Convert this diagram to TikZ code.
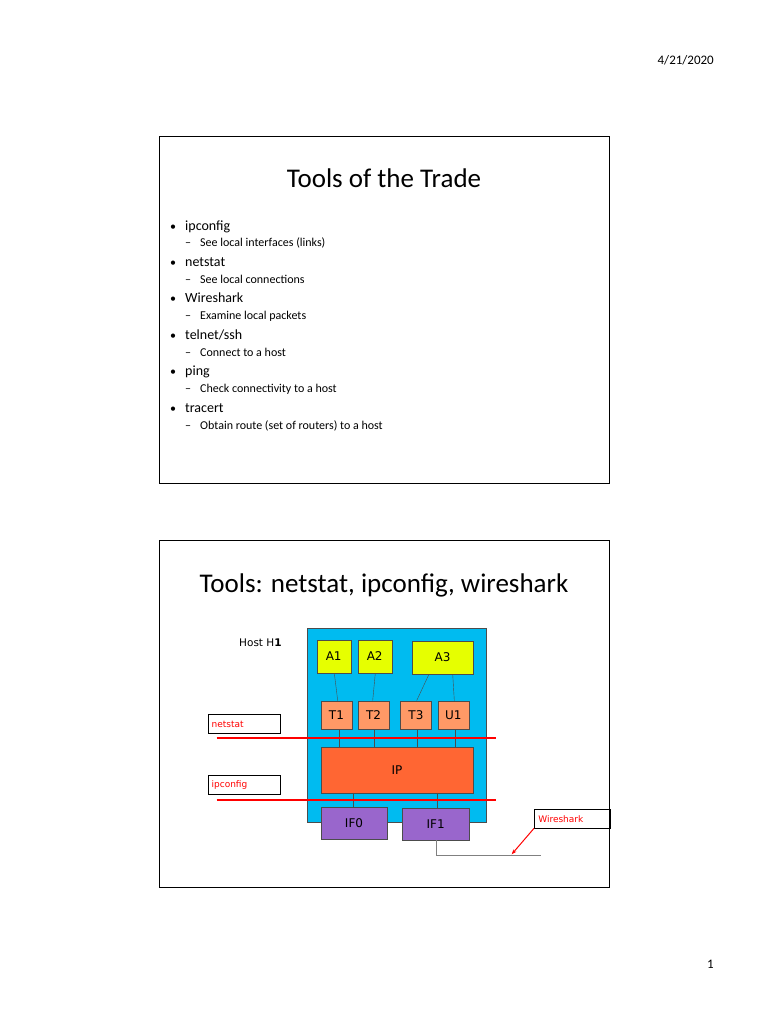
\documentclass[tikz,border=0pt]{standalone}
\usepackage{fontspec}
\setmainfont{Carlito}
\newfontfamily\dv{DejaVu Sans}
\usetikzlibrary{arrows.meta}
\definecolor{hostblue}{RGB}{0,187,240}
\definecolor{ayel}{RGB}{230,255,0}
\definecolor{tsal}{RGB}{255,153,102}
\definecolor{ipor}{RGB}{255,102,51}
\definecolor{ifpur}{RGB}{153,102,204}
\definecolor{redl}{RGB}{255,0,0}
\begin{document}
\begin{tikzpicture}[x=1pt,y=-1pt,
  frame/.style={draw=black,line width=0.6pt},
  blk/.style={draw=black!70,line width=0.4pt,inner sep=0pt,font=\dv\fontsize{12}{13}\selectfont},
  lab/.style={draw=black,line width=0.6pt,inner sep=0pt,text=redl,anchor=north west,font=\dv\fontsize{9}{10}\selectfont,align=left},
  wire/.style={draw=black!70,line width=0.4pt},
  redline/.style={draw=redl,line width=1.5pt},
  bul/.style={anchor=base west,font=\fontsize{14}{16}\selectfont,inner sep=0pt},
  sub/.style={anchor=base west,font=\fontsize{12}{14}\selectfont,inner sep=0pt}]
\useasboundingbox[fill=white] (0,0) rectangle (768,1024);
\node[anchor=base east,font=\fontsize{13}{15}\selectfont,inner sep=0pt] (date) at (714,65) {4/21/2020};
\node[anchor=base east,font=\fontsize{13}{15}\selectfont,inner sep=0pt] (pg) at (714,968) {1};
% slide 1
\draw[frame] (159,136) rectangle (609,483);
\node[font=\fontsize{27}{30}\selectfont,anchor=base] (t1) at (384,188) {Tools of the Trade};
\foreach \i/\a/\b [count=\k from 0] in {ipconfig/See local interfaces (links),netstat/See local connections,Wireshark/Examine local packets,telnet{/}ssh/Connect to a host,ping/Check connectivity to a host,tracert/Obtain route (set of routers) to a host}{
  \node[bul,font=\fontsize{12}{14}\selectfont] (bd\k) at (170,{230+36.4*\k}) {•};
  \node[bul] (bt\k) at (185,{230+36.4*\k}) {\i};
  \node[sub] (sd\k) at (185,{247+36.4*\k}) {–};
  \node[sub] (st\k) at (200,{247+36.4*\k}) {\a};
}
% slide 2
\draw[frame] (159,540) rectangle (609,887);
\node[font=\fontsize{27}{30}\selectfont,anchor=base] (t2) at (384,592) {Tools: netstat, ipconfig, wireshark};
\node[anchor=base west,font=\dv\fontsize{10.5}{12}\selectfont,inner sep=0pt] (host) at (239,646) {Host H\textbf{1}};
\node[draw=black!70,fill=hostblue,minimum width=179pt,minimum height=194pt,inner sep=0pt] (hb) at (396.2,725) {};
\node[blk,fill=ayel,minimum width=34pt,minimum height=33pt] (A1) at (333.7,656.5) {A1};
\node[blk,fill=ayel,minimum width=34pt,minimum height=33pt] (A2) at (374.7,656.5) {A2};
\node[blk,fill=ayel,minimum width=61pt,minimum height=33pt] (A3) at (442.5,657.5) {A3};
\node[blk,fill=tsal,minimum width=31pt,minimum height=28.5pt] (T1) at (336.4,715) {T1};
\node[blk,fill=tsal,minimum width=31pt,minimum height=28.5pt] (T2) at (373.5,715) {T2};
\node[blk,fill=tsal,minimum width=31pt,minimum height=28.5pt] (T3) at (415.9,715) {T3};
\node[blk,fill=tsal,minimum width=31pt,minimum height=28.5pt] (U1) at (453.4,715) {U1};
\node[blk,fill=ipor,minimum width=152.6pt,minimum height=45.4pt] (IP) at (397,770) {IP};
\node[blk,fill=ifpur,minimum width=66.6pt,minimum height=31.7pt] (IF0) at (354,823.2) {IF0};
\node[blk,fill=ifpur,minimum width=67.3pt,minimum height=31.7pt] (IF1) at (435.7,824.2) {IF1};
\draw[wire] (A1.south -| 334.3,0) -- (T1.north -| 337.7,0);
\draw[wire] (A2.south -| 375.3,0) -- (T2.north -| 372.7,0);
\draw[wire] (A3.south -| 429,0) -- (T3.north -| 416.7,0);
\draw[wire] (A3.south -| 452.7,0) -- (U1.north -| 454.3,0);
\draw[wire] (T1.south -| 339,0) -- (IP.north -| 339,0);
\draw[wire] (T2.south -| 373.7,0) -- (IP.north -| 373.7,0);
\draw[wire] (T3.south -| 416.7,0) -- (IP.north -| 416.7,0);
\draw[wire] (U1.south -| 455,0) -- (IP.north -| 455,0);
\draw[wire] (IP.south -| 353.3,0) -- (IF0.north -| 353.3,0);
\draw[wire] (IP.south -| 437.3,0) -- (IF1.north -| 437.3,0);
\node[lab,minimum width=69.4pt,minimum height=19.3pt,text width=66pt,inner xsep=3pt] (ns) at (208.3,714) {netstat};
\node[lab,minimum width=69.4pt,minimum height=19.3pt,text width=66pt,inner xsep=3pt] (ipc) at (208.3,774.7) {ipconfig};
\node[lab,minimum width=71.3pt,minimum height=18.7pt,text width=68pt,inner xsep=4pt] (ws) at (534,809) {Wireshark};
\coordinate (r1a) at (216.7,738); \coordinate (r1b) at (495.7,738);
\coordinate (r2a) at (216.7,800); \coordinate (r2b) at (495.7,800);
\draw[redline] (r1a) -- (r1b);
\draw[redline] (r2a) -- (r2b);
\coordinate (gc) at (436.7,855.3); \coordinate (ge) at (540.7,855.3);
\draw[draw=black!50,line width=1pt] (IF1.south -| gc) -- (gc) -- (ge);
\coordinate (wt) at (511.7,854.3);
\draw[draw=redl,line width=1pt,-{Stealth[length=5pt]}] (ws.south west) -- (wt);
\end{tikzpicture}
\end{document}
